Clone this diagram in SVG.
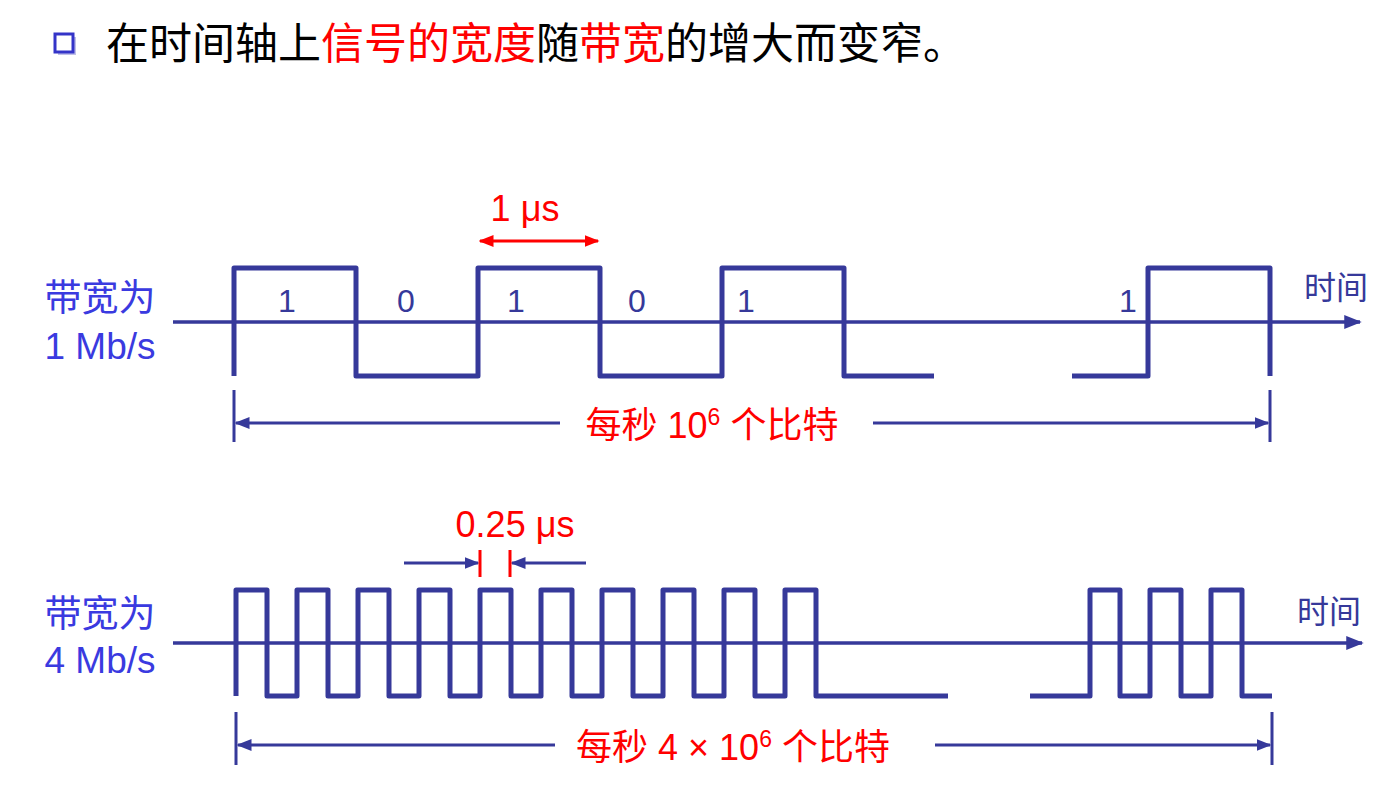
<svg xmlns="http://www.w3.org/2000/svg" width="1390" height="794" viewBox="0 0 1390 794">
<style>
.w{fill:none;stroke:#36399a;stroke-width:5;stroke-linejoin:round}
.ax{fill:none;stroke:#36399a;stroke-width:3.5}
.dim{fill:none;stroke:#36399a;stroke-width:3}
.t{font-family:"Liberation Sans","Noto Sans CJK SC",sans-serif}
.lab{fill:#3a3ae0;font-size:37px}
.bit{fill:#36399a;font-size:32px}
.red{fill:#ff0000;font-size:36px}
</style>
<defs>
<marker id="a" viewBox="0 0 10 10" refX="9" refY="5" markerWidth="5" markerHeight="5" orient="auto-start-reverse"><path d="M0,1 L10,5 L0,9 z" fill="#36399a"/></marker>
<marker id="r" viewBox="0 0 10 10" refX="9" refY="5" markerWidth="5" markerHeight="5" orient="auto-start-reverse"><path d="M0,1 L10,5 L0,9 z" fill="#ff0000"/></marker>
</defs>
<g id="title">
<rect x="58" y="37" width="18" height="18" fill="#c0c0e8"/>
<rect x="55" y="34" width="18" height="18" fill="#fff" stroke="#3434c8" stroke-width="3"/>
<text class="t" x="106" y="59" font-size="43" fill="#000">在时间轴上<tspan fill="#ff0000">信号的宽度</tspan>随<tspan fill="#ff0000">带宽</tspan>的增大而变窄。</text>
</g>
<g id="connectors">
<line class="ax" x1="173" y1="322" x2="1360" y2="322" marker-end="url(#a)"/>
<line class="ax" x1="173" y1="643" x2="1362" y2="643" marker-end="url(#a)"/>
<line class="dim" x1="234" y1="390" x2="234" y2="442"/>
<line class="dim" x1="1270" y1="390" x2="1270" y2="442"/>
<line class="dim" x1="560" y1="423" x2="236" y2="423" marker-end="url(#a)"/>
<line class="dim" x1="873" y1="423" x2="1268" y2="423" marker-end="url(#a)"/>
<line class="dim" x1="236" y1="712" x2="236" y2="765"/>
<line class="dim" x1="1272" y1="712" x2="1272" y2="765"/>
<line class="dim" x1="555" y1="745" x2="238" y2="745" marker-end="url(#a)"/>
<line class="dim" x1="935" y1="745" x2="1270" y2="745" marker-end="url(#a)"/>
<line x1="480" y1="241" x2="598" y2="241" stroke="#ff0000" stroke-width="3" marker-start="url(#r)" marker-end="url(#r)"/>
<line class="dim" x1="404" y1="563" x2="478" y2="563" marker-end="url(#a)"/>
<line class="dim" x1="586" y1="563" x2="512" y2="563" marker-end="url(#a)"/>
<line x1="480" y1="550" x2="480" y2="577" stroke="#ff0000" stroke-width="3"/>
<line x1="510" y1="550" x2="510" y2="577" stroke="#ff0000" stroke-width="3"/>
</g>
<g id="signal1">
<path class="w" d="M234,376 V268 H356 V376 H478 V268 H600 V376 H722 V268 H844 V376 H934"/>
<path class="w" d="M1072,376 H1148 V268 H1270 V376"/>
<g class="t bit" text-anchor="middle">
<text x="287" y="312">1</text><text x="406" y="312">0</text><text x="516" y="312">1</text><text x="637" y="312">0</text><text x="746" y="312">1</text><text x="1128" y="312">1</text>
</g>
<text class="t lab" x="100" y="311" text-anchor="middle">带宽为</text>
<text class="t lab" x="100" y="359" text-anchor="middle">1 Mb/s</text>
<text class="t bit" x="1304" y="299" font-size="36">时间</text>
<text class="t red" x="525" y="221" text-anchor="middle">1 μs</text>
<text class="t red" x="712" y="438" text-anchor="middle">每秒 10<tspan font-size="23" dy="-13">6</tspan><tspan dy="13"> 个比特</tspan></text>
</g>
<g id="signal2">
<path class="w" d="M236,696 V590 H267 V696 H297 V590 H328 V696 H358 V590 H389 V696 H419 V590 H450 V696 H480 V590 H511 V696 H541 V590 H572 V696 H602 V590 H633 V696 H663 V590 H694 V696 H724 V590 H755 V696 H785 V590 H816 V696 H948"/>
<path class="w" d="M1030,696 H1090 V590 H1120 V696 H1150 V590 H1181 V696 H1211 V590 H1242 V696 H1272"/>
<text class="t lab" x="100" y="627" text-anchor="middle">带宽为</text>
<text class="t lab" x="100" y="673" text-anchor="middle">4 Mb/s</text>
<text class="t bit" x="1297" y="623" font-size="36">时间</text>
<text class="t red" x="515" y="537" text-anchor="middle">0.25 μs</text>
<text class="t red" x="733" y="760" text-anchor="middle">每秒 4 × 10<tspan font-size="23" dy="-13">6</tspan><tspan dy="13"> 个比特</tspan></text>
</g>
</svg>
